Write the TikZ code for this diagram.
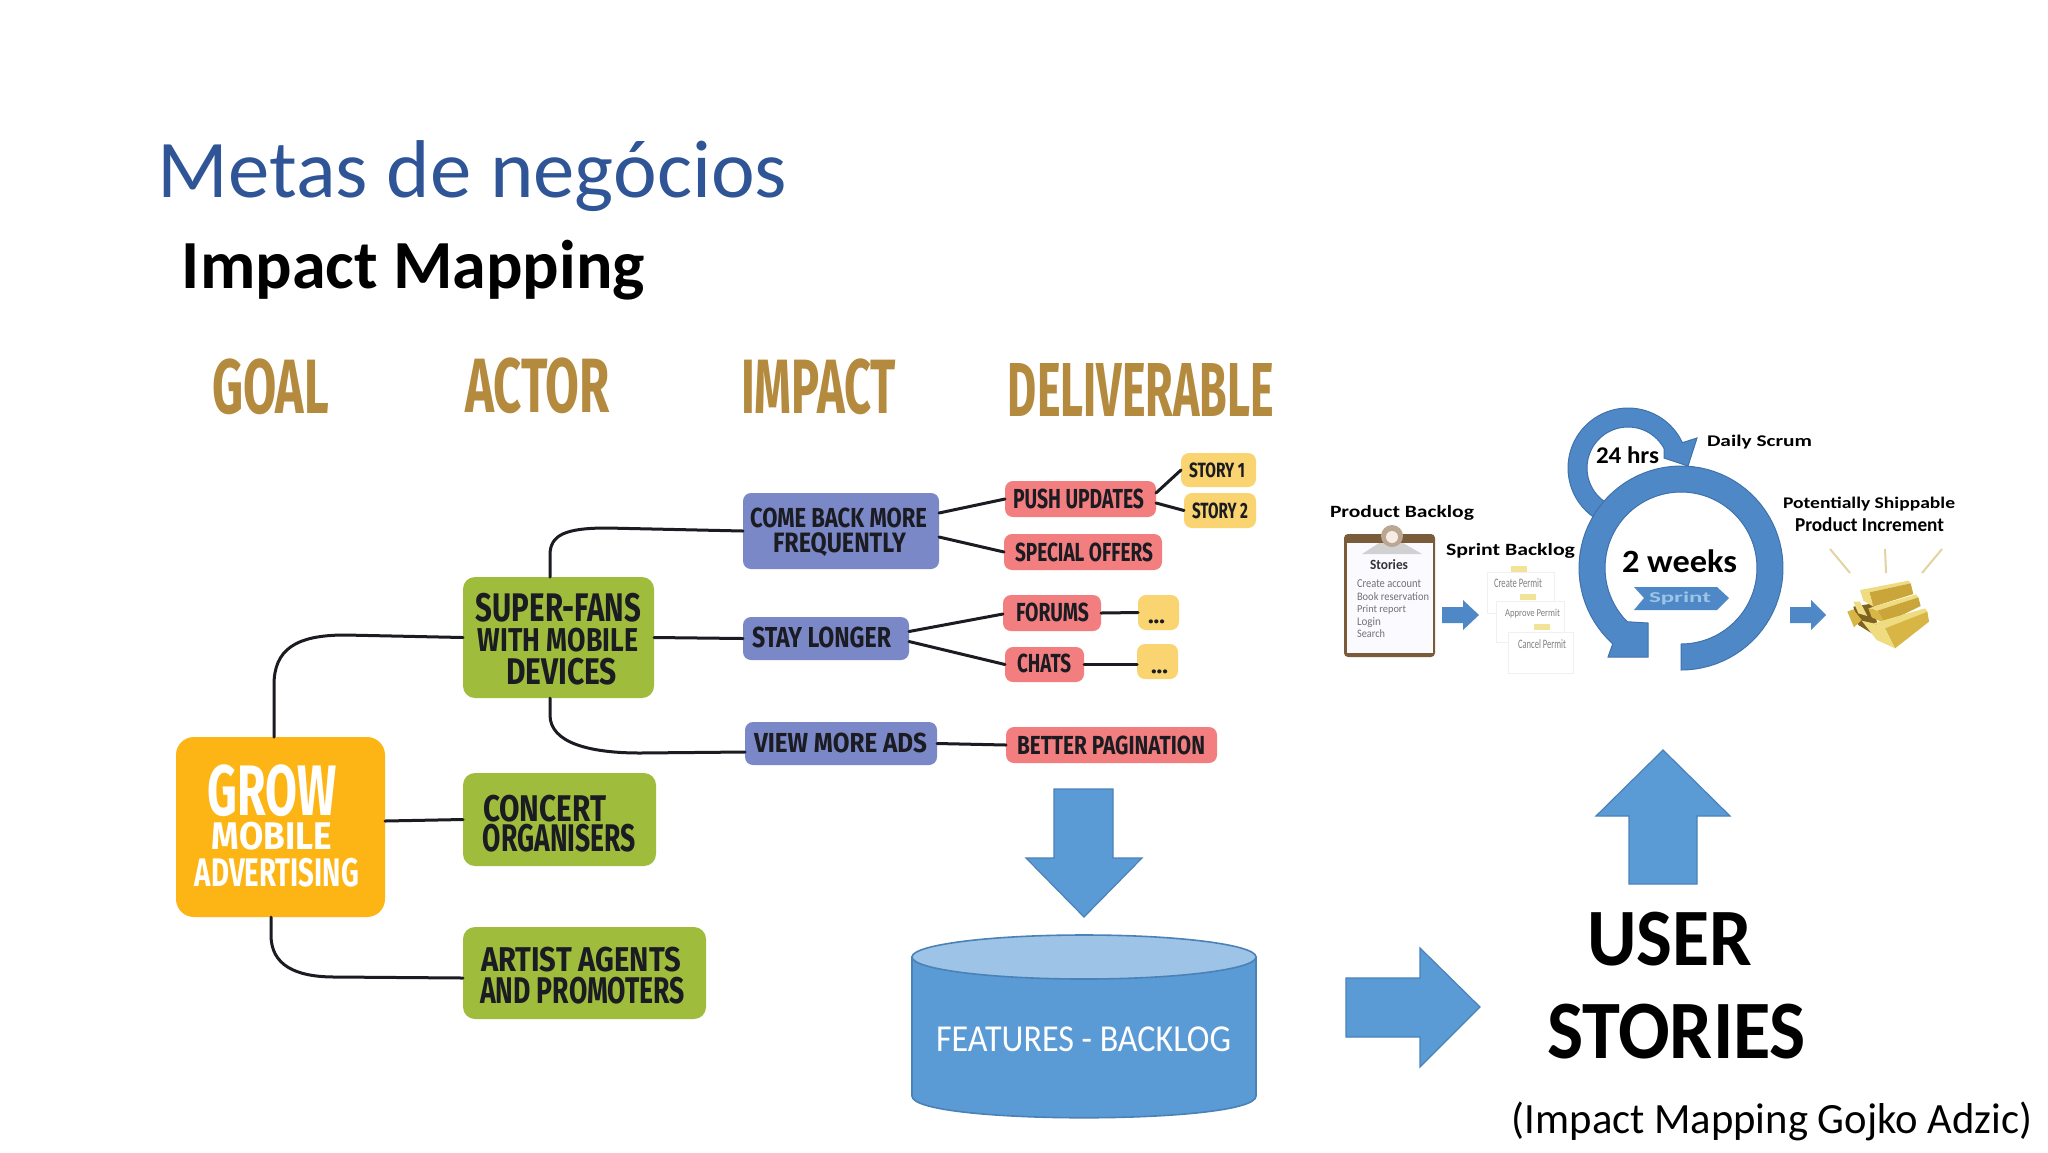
\documentclass[tikz,border=0pt]{standalone}
\usepackage{graphicx}
\usepackage{fontspec}
\newfontfamily\carl{Carlito}
\newfontfamily\fira{Fira Sans}
\newcommand\hnd[1]{{\fira\bfseries #1}}
\newcommand\slb[1]{{\carl\bfseries #1}}
\newcommand\slr[1]{{\carl #1}}
\definecolor{ttl}{HTML}{2F5597}
\definecolor{hdr}{HTML}{B48A3E}
\definecolor{cgrow}{HTML}{FDB515}
\definecolor{cgreen}{HTML}{9FBC3D}
\definecolor{cblue}{HTML}{7B88C8}
\definecolor{cred}{HTML}{F27E80}
\definecolor{cyel}{HTML}{FAD470}
\definecolor{ink}{HTML}{1B1B22}
\definecolor{blk}{HTML}{5B9BD5}
\definecolor{blke}{HTML}{4A82B8}
\definecolor{cyltop}{HTML}{9DC3E6}
\definecolor{ring}{HTML}{4F88C6}
\definecolor{ringe}{HTML}{3F72AC}
\definecolor{brn}{HTML}{7A5C3A}
\definecolor{ray}{HTML}{E2D3A2}
\definecolor{gold}{HTML}{D8B645}
\definecolor{goldl}{HTML}{EFDC80}
\definecolor{goldm}{HTML}{C9A53A}
\definecolor{goldd}{HTML}{7E6222}
\newcommand\tx[7]{%
  \pgfmathsetmacro\mytw{(#3-#2)*0.5}\pgfmathsetmacro\myth{(#5-#4)*0.5}%
  \node[tlab,text=#6] (#1) at ({(#2+#3)/2},{(#4+#5)/2}) {\resizebox*{\mytw pt}{\myth pt}{#7}};%
}
\newcommand\bx[6]{%
  \pgfmathsetmacro\mytw{(#3-#2)*0.5}\pgfmathsetmacro\myth{(#5-#4)*0.5}%
  \node[box,#6,minimum width=\mytw pt,minimum height=\myth pt] (#1) at ({(#2+#3)/2},{(#4+#5)/2}) {};%
}
\tikzset{
  tlab/.style={inner sep=0pt,outer sep=0pt},
  box/.style={inner sep=0pt,outer sep=0pt,rounded corners=4pt},
  link/.style={draw=ink,line width=1.5pt,line cap=round},
  block/.style={fill=blk,draw=blke,line width=.6pt,line join=miter},
  ringf/.style={fill=ring,draw=ringe,line width=.5pt},
  card/.style={fill=white,draw=black!6,line width=.4pt}
}
\begin{document}
\begin{tikzpicture}[x=0.5pt,y=-0.5pt]
\useasboundingbox (0,0) rectangle (2048,1152);
\fill[white] (0,0) rectangle (2048,1152);
% titles
\tx{title}{158}{787}{141}{212}{ttl}{\slr{Metas de negócios}}
\tx{sub}{182}{645}{240}{300}{black}{\slb{Impact Mapping}}
% headers
\tx{hgoal}{212}{329}{359}{415}{hdr}{\hnd{GOAL}}
\tx{hactor}{465}{610}{358}{414}{hdr}{\hnd{ACTOR}}
\tx{himpact}{741}{896}{359}{415}{hdr}{\hnd{IMPACT}}
\tx{hdeliv}{1008}{1274}{363}{416}{hdr}{\hnd{DELIVERABLE}}
% boxes
\bx{grow}{176}{385}{737}{917}{fill=cgrow,rounded corners=9pt}
\bx{sf}{463}{654}{577}{698}{fill=cgreen,rounded corners=6pt}
\bx{concert}{463}{656}{773}{866}{fill=cgreen,rounded corners=6pt}
\bx{artist}{463}{706}{927}{1019}{fill=cgreen,rounded corners=6pt}
\bx{come}{743}{939}{493}{569}{fill=cblue}
\bx{stay}{743}{909}{617}{660}{fill=cblue}
\bx{view}{745}{937}{722}{765}{fill=cblue}
\bx{push}{1005}{1156}{481}{517}{fill=cred}
\bx{special}{1004}{1162}{534}{570}{fill=cred}
\bx{forums}{1003}{1101}{595}{631}{fill=cred}
\bx{chats}{1005}{1084}{647}{682}{fill=cred}
\bx{better}{1006}{1217}{727}{763}{fill=cred}
\bx{story1}{1181}{1256}{453}{487}{fill=cyel}
\bx{story2}{1184}{1256}{493}{528}{fill=cyel}
\bx{dotsa}{1138}{1179}{595}{630}{fill=cyel}
\bx{dotsb}{1137}{1178}{644}{679}{fill=cyel}
% connectors
\draw[link] ([xshift=-3.25pt]grow.north) -- (274,685) .. controls (274,650) and (295,635) .. (345,635) -- (sf.west);
\draw[link] ([yshift=3pt]grow.east) -- (concert.west);
\draw[link] ([xshift=-4.75pt]grow.south) -- (271,935) .. controls (271,965) and (295,977) .. (335,977) -- ([yshift=-2.5pt]artist.west);
\draw[link] ([xshift=-4.25pt]sf.north) -- (550,555) .. controls (550,535) and (565,528) .. (607,528) -- (come.west);
\draw[link] (sf.east) -- (stay.west);
\draw[link] ([xshift=-4.25pt]sf.south) -- (550,715) .. controls (550,743) and (590,753) .. (640,753) -- ([yshift=-4.25pt]view.west);
\draw[link] ([yshift=9pt]come.east) -- (push.west);
\draw[link] ([yshift=-3pt]come.east) -- (special.west);
\draw[link] ([yshift=3.5pt]stay.east) -- ([yshift=-.5pt]forums.west);
\draw[link] ([yshift=-1.5pt]stay.east) -- (chats.west);
\draw[link] (view.east) -- (better.west);
\draw[link] ([yshift=3pt]push.east) -- (story1.west);
\draw[link] ([yshift=-2pt]push.east) -- (story2.west);
\draw[link] (forums.east) -- (dotsa.west);
\draw[link] (chats.east) -- ([yshift=-1.5pt]dotsb.west);
% box texts
\tx{t1}{208}{337}{765}{817}{white}{\hnd{GROW}}
\tx{t2}{212}{332}{822}{850}{white}{\hnd{MOBILE}}
\tx{t3}{195}{359}{858}{887}{white}{\hnd{ADVERTISING}}
\tx{t4}{476}{641}{593}{622}{ink}{\hnd{SUPER-FANS}}
\tx{t5}{478}{638}{628}{652}{ink}{\hnd{WITH MOBILE}}
\tx{t6}{506}{617}{658}{685}{ink}{\hnd{DEVICES}}
\tx{t7}{483}{606}{795}{822}{ink}{\hnd{CONCERT}}
\tx{t8}{483}{636}{824}{852}{ink}{\hnd{ORGANISERS}}
\tx{t9}{481}{681}{947}{972}{ink}{\hnd{ARTIST AGENTS}}
\tx{t10}{480}{685}{977}{1004}{ink}{\hnd{AND PROMOTERS}}
\tx{t11}{750}{927}{508}{528}{ink}{\hnd{COME BACK MORE}}
\tx{t12}{773}{906}{533}{557}{ink}{\hnd{FREQUENTLY}}
\tx{t13}{752}{891}{627}{648}{ink}{\hnd{STAY LONGER}}
\tx{t14}{754}{927}{733}{753}{ink}{\hnd{VIEW MORE ADS}}
\tx{t15}{1013}{1144}{489}{509}{ink}{\hnd{PUSH UPDATES}}
\tx{t16}{1015}{1153}{543}{562}{ink}{\hnd{SPECIAL OFFERS}}
\tx{t17}{1016}{1089}{603}{622}{ink}{\hnd{FORUMS}}
\tx{t18}{1017}{1071}{654}{673}{ink}{\hnd{CHATS}}
\tx{t19}{1017}{1205}{736}{755}{ink}{\hnd{BETTER PAGINATION}}
\tx{t20}{1189}{1245}{463}{478}{ink}{\hnd{STORY 1}}
\tx{t21}{1192}{1248}{503}{519}{ink}{\hnd{STORY 2}}
\tx{t22}{1148}{1165}{620}{624}{ink}{\hnd{...}}
\tx{t23}{1151}{1168}{670}{674}{ink}{\hnd{...}}
% big block arrows
\path[block] (1054,789) -- (1113,789) -- (1113,858) -- (1142,858) -- (1084,917) -- (1026,858) -- (1054,858) -- cycle;
\path[block] (1629,884) -- (1697,884) -- (1697,816) -- (1730,816) -- (1663,750) -- (1596,816) -- (1629,816) -- cycle;
\path[block] (1346,978) -- (1420,978) -- (1420,948) -- (1480,1007) -- (1420,1067) -- (1420,1037) -- (1346,1037) -- cycle;
% cylinder
\path[fill=blk,draw=blke,line width=.8pt] (912,957) -- (912,1096) .. controls (912,1125) and (1256,1125) .. (1256,1096) -- (1256,957) -- cycle;
\path[fill=cyltop,draw=blke,line width=.8pt] (1084,957) ellipse [x radius=172,y radius=22];
\tx{feat}{936}{1231}{1027}{1052}{white}{\slr{FEATURES - BACKLOG}}
% user stories
\tx{user}{1587}{1752}{912}{966}{black}{\slb{USER}}
\tx{stories}{1547}{1806}{1004}{1059}{black}{\slb{STORIES}}
\tx{cite}{1512}{2032}{1102}{1141}{black}{\slr{(Impact Mapping Gojko Adzic)}}
% scrum rings
\path[ringf] plot[domain=235:25,samples=50] ({1628+60*cos(\x)},{468-60*sin(\x)}) -- (1697,438) -- (1688,466) -- (1664,458) -- plot[domain=28:235,samples=50] ({1628+41*cos(\x)},{468-41*sin(\x)}) -- cycle;
\path[ringf] plot[domain=-90:228,samples=80] ({1681+102*cos(\x)},{568-102*sin(\x)}) -- (1608,657) -- (1648,657) -- (1648,623) -- plot[domain=225:-90,samples=80] ({1681+76*cos(\x)},{568-76*sin(\x)}) -- cycle;
\path[fill=ring] (1634,587) -- (1717,587) -- (1729,598) -- (1717,610) -- (1634,610) -- (1644,598) -- cycle;
\tx{hrs}{1596}{1659}{447}{464}{black}{\slb{24 hrs}}
\tx{daily}{1707}{1812}{435}{449}{black}{\slb{Daily Scrum}}
\tx{pb}{1330}{1474}{505}{520}{black}{\slb{Product Backlog}}
\tx{sb}{1446}{1575}{543}{558}{black}{\slb{Sprint Backlog}}
\tx{pot}{1783}{1955}{497}{511}{black}{\slb{Potentially Shippable}}
\tx{inc}{1795}{1944}{518}{532}{black}{\slb{Product Increment}}
\tx{weeks}{1622}{1737}{550}{573}{black}{\slb{2 weeks}}
\tx{spr}{1649}{1711}{592}{605}{cyltop}{\slb{Sprint}}
% small arrows
\path[fill=ring] (1442,607) -- (1463,607) -- (1463,600) -- (1479,615) -- (1463,630) -- (1463,623) -- (1442,623) -- cycle;
\path[fill=ring] (1790,607) -- (1811,607) -- (1811,600) -- (1826,615) -- (1811,630) -- (1811,623) -- (1790,623) -- cycle;
% clipboard
\path[fill=brn,rounded corners=2pt] (1344,534) rectangle (1435,657);
\path[fill=blue!2!white] (1347,543) rectangle (1433,653);
\path[fill=black!18] (1362,554) -- (1379,543) -- (1403,543) -- (1422,554) -- cycle;
\path[fill=brown!45!gray!70] (1392,536) ellipse [x radius=11,y radius=11];
\path[fill=white!85!brown] (1392,537) ellipse [x radius=6,y radius=6];
\tx{st}{1370}{1408}{560}{570}{black!80}{\slb{Stories}}
\tx{c1}{1357}{1421}{580}{588}{black!55}{\slr{Create account}}
\tx{c2}{1357}{1429}{593}{601}{black!55}{\slr{Book reservation}}
\tx{c3}{1357}{1406}{605}{614}{black!55}{\slr{Print report}}
\tx{c4}{1357}{1381}{617}{627}{black!55}{\slr{Login}}
\tx{c5}{1357}{1385}{630}{638}{black!55}{\slr{Search}}
% sprint cards
\path[card] (1487,572) rectangle (1554,613);
\path[card] (1496,601) rectangle (1564,642);
\path[card] (1508,632) rectangle (1573,673);
\path[fill=goldl!80] (1511,566) rectangle (1527,572);
\path[fill=goldl!80] (1520,594) rectangle (1536,600);
\path[fill=goldl!80] (1534,624) rectangle (1550,630);
\tx{p1}{1494}{1542}{579}{588}{black!50}{\slr{Create Permit}}
\tx{p2}{1505}{1560}{609}{618}{black!50}{\slr{Approve Permit}}
\tx{p3}{1518}{1566}{640}{649}{black!50}{\slr{Cancel Permit}}
% gold
\draw[ray,line width=1pt] (1830,549) -- (1850,573);
\draw[ray,line width=1pt] (1885,549) -- (1886,573);
\draw[ray,line width=1pt] (1942,549) -- (1922,573);
\begin{scope}[shift={(1830,560)},x=0.16667pt,y=-0.16667pt]
  \fill[goldd] (70,140) -- (130,130) -- (150,235) -- (85,195) -- cycle;
  \fill[gold] (52,155) -- (70,148) -- (95,180) -- (72,202) -- cycle;
  \fill[goldl] (70,125) -- (90,125) -- (112,168) -- (85,160) -- cycle;
  \fill[goldl] (90,90) -- (235,62) -- (242,70) -- (118,97) -- cycle;
  \fill[goldm] (118,97) -- (242,70) -- (250,102) -- (130,140) -- cycle;
  \fill[goldl] (90,90) -- (118,97) -- (130,140) -- (100,122) -- cycle;
  \fill[goldl] (115,145) -- (258,103) -- (265,112) -- (142,152) -- cycle;
  \fill[goldm] (142,152) -- (265,112) -- (272,138) -- (165,190) -- cycle;
  \fill[gold] (115,145) -- (142,152) -- (165,190) -- (125,172) -- cycle;
  \fill[goldl] (130,190) -- (285,145) -- (292,155) -- (165,205) -- cycle;
  \fill[gold] (165,205) -- (292,155) -- (297,185) -- (195,265) -- cycle;
  \fill[goldl] (95,182) -- (130,190) -- (165,205) -- (195,265) -- (140,240) -- cycle;
\end{scope}
\end{tikzpicture}
\end{document}
